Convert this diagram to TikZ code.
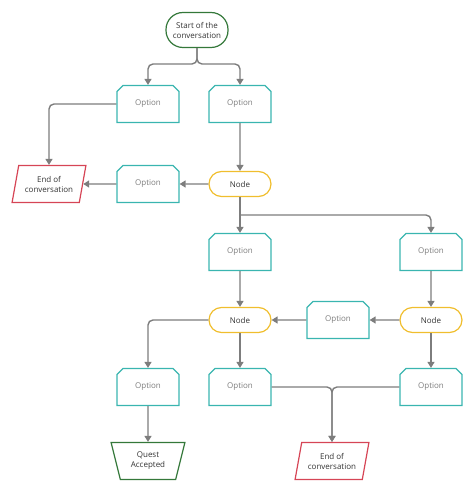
\documentclass[tikz,border=0pt]{standalone}
\usepackage{fontspec}
\setmainfont{Open Sans}
\usepackage{xcolor}
\usetikzlibrary{shapes.misc,shapes.geometric,arrows.meta}
\definecolor{optcol}{RGB}{58,181,176}
\definecolor{nodecol}{RGB}{240,190,46}
\definecolor{endcol}{RGB}{214,69,86}
\definecolor{startcol}{RGB}{52,120,58}
\definecolor{linecol}{RGB}{125,125,125}
\tikzset{
    opt/.style={chamfered rectangle,chamfered rectangle corners={north west,north east},chamfered rectangle xsep=3pt,chamfered rectangle ysep=3pt,draw=optcol,line width=1.2pt,minimum width=62pt,minimum height=37pt,inner sep=0pt,text=linecol,font=\fontsize{8}{10}\selectfont},
    dlg/.style={rectangle,rounded corners=12.5pt,draw=nodecol,line width=1.2pt,minimum width=62pt,minimum height=25pt,inner sep=0pt,text=black!80,font=\fontsize{8}{10}\selectfont},
    fin/.style={trapezium,trapezium left angle=72,trapezium right angle=108,trapezium stretches=true,draw=endcol,line width=1.2pt,minimum width=74pt,minimum height=37pt,inner sep=0pt,align=center,text=black!80,font=\fontsize{8}{10}\selectfont},
    quest/.style={trapezium,trapezium left angle=108,trapezium right angle=108,trapezium stretches=true,draw=startcol,line width=1.2pt,minimum width=74pt,minimum height=37pt,inner sep=0pt,align=center,text=black!80,font=\fontsize{8}{10}\selectfont},
    begin/.style={rectangle,rounded corners=17pt,draw=startcol,line width=1.2pt,minimum width=62pt,minimum height=35pt,inner sep=0pt,align=center,text=black!80,font=\fontsize{8}{10}\selectfont},
    con/.style={draw=linecol,line width=1.4pt,->,rounded corners=5pt}
}
\begin{document}
\begin{tikzpicture}[>={Triangle[length=6pt,width=7pt]},x=1pt,y=-1pt]
    \useasboundingbox (0,0) rectangle (474,492);
    \node[begin] (st) at (197,30) {Start of the\\conversation};
    \node[opt] (o1a) at (148,104) {Option};
    \node[opt] (o1b) at (240,104) {Option};
    \node[fin] (e1) at (49,184) {End of\\conversation};
    \node[opt] (o2a) at (148,184) {Option};
    \node[dlg] (n1) at (240,184) {Node};
    \node[opt] (o3a) at (240,252) {Option};
    \node[opt] (o3b) at (431,252) {Option};
    \node[dlg] (n2) at (240,320) {Node};
    \node[opt] (o4) at (338,320) {Option};
    \node[dlg] (n3) at (431,320) {Node};
    \node[opt] (o5a) at (148,387) {Option};
    \node[opt] (o5b) at (240,387) {Option};
    \node[opt] (o5c) at (431,387) {Option};
    \node[quest] (q) at (148,461) {Quest\\Accepted};
    \node[fin] (e2) at (332,461) {End of\\conversation};
    \coordinate (s1) at (197,64);
    \coordinate (s2) at (240,215);

    \draw [con] (st) -- (s1) -| (o1a);
    \draw [con] (st) -- (s1) -| (o1b);
    \draw [con] (o1a) -| (e1);
    \draw [con] (o1b) -- (n1);
    \draw [con] (n1) -- (o2a);
    \draw [con] (o2a) -- (e1);
    \draw [con] (n1) -- (o3a);
    \draw [con] (s2) -| (o3b);
    \draw [con] (o3a) -- (n2);
    \draw [con] (o3b) -- (n3);
    \draw [con] (n3) -- (o4);
    \draw [con] (o4) -- (n2);
    \draw [con] (n2) -| (o5a);
    \draw [con] (n2) -- (o5b);
    \draw [con] (n3) -- (o5c);
    \draw [con] (o5a) -- (q);
    \draw [con] (o5b) -| (e2);
    \draw [con] (o5c) -| (e2);
\end{tikzpicture}
\end{document}
